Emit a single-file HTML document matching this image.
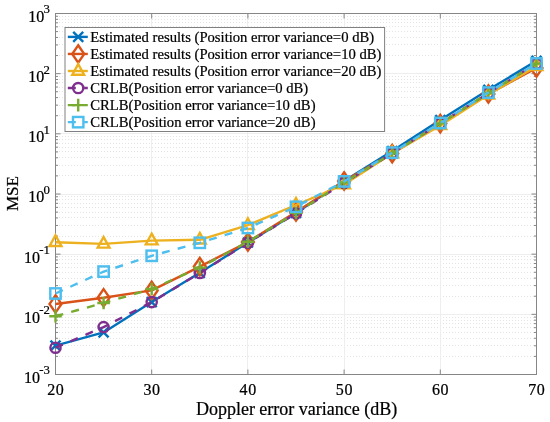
<!DOCTYPE html>
<html><head><meta charset="utf-8"><title>MSE vs Doppler error variance</title>
<style>html,body{margin:0;padding:0;background:#fff}svg{display:block}text{font-family:"Liberation Serif","Times New Roman",serif;fill:#000;stroke:#000;stroke-width:0.22px}</style></head><body>
<svg width="550" height="422" viewBox="0 0 550 422">
<rect width="550" height="422" fill="#fff"/>
<path d="M56.0 356.5H536.5M56.0 345.5H536.5M56.0 338.5H536.5M56.0 332.5H536.5M56.0 327.5H536.5M56.0 323.5H536.5M56.0 320.5H536.5M56.0 317.5H536.5M56.0 296.5H536.5M56.0 285.5H536.5M56.0 278.5H536.5M56.0 272.5H536.5M56.0 267.5H536.5M56.0 263.5H536.5M56.0 259.5H536.5M56.0 256.5H536.5M56.0 236.5H536.5M56.0 225.5H536.5M56.0 217.5H536.5M56.0 212.5H536.5M56.0 207.5H536.5M56.0 203.5H536.5M56.0 199.5H536.5M56.0 196.5H536.5M56.0 175.5H536.5M56.0 165.5H536.5M56.0 157.5H536.5M56.0 151.5H536.5M56.0 147.5H536.5M56.0 143.5H536.5M56.0 139.5H536.5M56.0 136.5H536.5M56.0 115.5H536.5M56.0 105.5H536.5M56.0 97.5H536.5M56.0 91.5H536.5M56.0 87.5H536.5M56.0 82.5H536.5M56.0 79.5H536.5M56.0 76.5H536.5M56.0 55.5H536.5M56.0 44.5H536.5M56.0 37.5H536.5M56.0 31.5H536.5M56.0 26.5H536.5M56.0 22.5H536.5M56.0 19.5H536.5M56.0 16.5H536.5" stroke="#e4e4e4" stroke-width="1" stroke-dasharray="1,2" fill="none"/>
<path d="M151.5 13.5V374.5M247.5 13.5V374.5M344.5 13.5V374.5M440.5 13.5V374.5M55.5 314.5H536.5M55.5 254.5H536.5M55.5 194.5H536.5M55.5 133.5H536.5M55.5 73.5H536.5" stroke="#eeeeee" stroke-width="1" fill="none"/>
<path d="M55.50 374.5v-5M55.50 13.5v5M151.70 374.5v-5M151.70 13.5v5M247.90 374.5v-5M247.90 13.5v5M344.10 374.5v-5M344.10 13.5v5M440.30 374.5v-5M440.30 13.5v5M536.50 374.5v-5M536.50 13.5v5M55.5 374.50h5M536.5 374.50h-5M55.5 314.33h5M536.5 314.33h-5M55.5 254.17h5M536.5 254.17h-5M55.5 194.00h5M536.5 194.00h-5M55.5 133.83h5M536.5 133.83h-5M55.5 73.67h5M536.5 73.67h-5M55.5 13.50h5M536.5 13.50h-5M55.5 356.39h2.5M536.5 356.39h-2.5M55.5 345.79h2.5M536.5 345.79h-2.5M55.5 338.28h2.5M536.5 338.28h-2.5M55.5 332.45h2.5M536.5 332.45h-2.5M55.5 327.68h2.5M536.5 327.68h-2.5M55.5 323.65h2.5M536.5 323.65h-2.5M55.5 320.16h2.5M536.5 320.16h-2.5M55.5 317.09h2.5M536.5 317.09h-2.5M55.5 296.22h2.5M536.5 296.22h-2.5M55.5 285.63h2.5M536.5 285.63h-2.5M55.5 278.11h2.5M536.5 278.11h-2.5M55.5 272.28h2.5M536.5 272.28h-2.5M55.5 267.51h2.5M536.5 267.51h-2.5M55.5 263.49h2.5M536.5 263.49h-2.5M55.5 260.00h2.5M536.5 260.00h-2.5M55.5 256.92h2.5M536.5 256.92h-2.5M55.5 236.05h2.5M536.5 236.05h-2.5M55.5 225.46h2.5M536.5 225.46h-2.5M55.5 217.94h2.5M536.5 217.94h-2.5M55.5 212.11h2.5M536.5 212.11h-2.5M55.5 207.35h2.5M536.5 207.35h-2.5M55.5 203.32h2.5M536.5 203.32h-2.5M55.5 199.83h2.5M536.5 199.83h-2.5M55.5 196.75h2.5M536.5 196.75h-2.5M55.5 175.89h2.5M536.5 175.89h-2.5M55.5 165.29h2.5M536.5 165.29h-2.5M55.5 157.78h2.5M536.5 157.78h-2.5M55.5 151.95h2.5M536.5 151.95h-2.5M55.5 147.18h2.5M536.5 147.18h-2.5M55.5 143.15h2.5M536.5 143.15h-2.5M55.5 139.66h2.5M536.5 139.66h-2.5M55.5 136.59h2.5M536.5 136.59h-2.5M55.5 115.72h2.5M536.5 115.72h-2.5M55.5 105.13h2.5M536.5 105.13h-2.5M55.5 97.61h2.5M536.5 97.61h-2.5M55.5 91.78h2.5M536.5 91.78h-2.5M55.5 87.01h2.5M536.5 87.01h-2.5M55.5 82.99h2.5M536.5 82.99h-2.5M55.5 79.50h2.5M536.5 79.50h-2.5M55.5 76.42h2.5M536.5 76.42h-2.5M55.5 55.55h2.5M536.5 55.55h-2.5M55.5 44.96h2.5M536.5 44.96h-2.5M55.5 37.44h2.5M536.5 37.44h-2.5M55.5 31.61h2.5M536.5 31.61h-2.5M55.5 26.85h2.5M536.5 26.85h-2.5M55.5 22.82h2.5M536.5 22.82h-2.5M55.5 19.33h2.5M536.5 19.33h-2.5M55.5 16.25h2.5M536.5 16.25h-2.5" stroke="#868686" stroke-width="1" fill="none"/>
<rect x="55.5" y="13.5" width="481.0" height="361.0" fill="none" stroke="#868686" stroke-width="1"/>
<clipPath id="c"><rect x="43.5" y="1.5" width="505.0" height="385.0"/></clipPath>
<g clip-path="url(#c)"><polyline points="55.50,345.60 103.60,332.40 151.70,302.10 199.80,272.80 247.90,242.50 296.00,213.00 344.10,181.00 392.20,151.10 440.30,120.10 488.40,89.80 536.50,60.80" fill="none" stroke="#0072BD" stroke-width="2.4" stroke-linejoin="round"/>
<path d="M50.50 340.60L60.50 350.60M50.50 350.60L60.50 340.60" stroke="#0072BD" stroke-width="2.4" fill="none"/>
<path d="M98.60 327.40L108.60 337.40M98.60 337.40L108.60 327.40" stroke="#0072BD" stroke-width="2.4" fill="none"/>
<path d="M146.70 297.10L156.70 307.10M146.70 307.10L156.70 297.10" stroke="#0072BD" stroke-width="2.4" fill="none"/>
<path d="M194.80 267.80L204.80 277.80M194.80 277.80L204.80 267.80" stroke="#0072BD" stroke-width="2.4" fill="none"/>
<path d="M242.90 237.50L252.90 247.50M242.90 247.50L252.90 237.50" stroke="#0072BD" stroke-width="2.4" fill="none"/>
<path d="M291.00 208.00L301.00 218.00M291.00 218.00L301.00 208.00" stroke="#0072BD" stroke-width="2.4" fill="none"/>
<path d="M339.10 176.00L349.10 186.00M339.10 186.00L349.10 176.00" stroke="#0072BD" stroke-width="2.4" fill="none"/>
<path d="M387.20 146.10L397.20 156.10M387.20 156.10L397.20 146.10" stroke="#0072BD" stroke-width="2.4" fill="none"/>
<path d="M435.30 115.10L445.30 125.10M435.30 125.10L445.30 115.10" stroke="#0072BD" stroke-width="2.4" fill="none"/>
<path d="M483.40 84.80L493.40 94.80M483.40 94.80L493.40 84.80" stroke="#0072BD" stroke-width="2.4" fill="none"/>
<path d="M531.50 55.80L541.50 65.80M531.50 65.80L541.50 55.80" stroke="#0072BD" stroke-width="2.4" fill="none"/>
</g>
<g clip-path="url(#c)"><polyline points="55.50,304.00 103.60,297.80 151.70,290.40 199.80,266.60 247.90,242.00 296.00,211.90 344.10,181.00 392.20,153.60 440.30,123.60 488.40,94.00 536.50,68.00" fill="none" stroke="#D95319" stroke-width="2.4" stroke-linejoin="round"/>
<path d="M55.50 295.30L61.50 304.00L55.50 312.70L49.50 304.00Z" stroke="#D95319" stroke-width="2.4" fill="none" stroke-linejoin="miter"/>
<path d="M103.60 289.10L109.60 297.80L103.60 306.50L97.60 297.80Z" stroke="#D95319" stroke-width="2.4" fill="none" stroke-linejoin="miter"/>
<path d="M151.70 281.70L157.70 290.40L151.70 299.10L145.70 290.40Z" stroke="#D95319" stroke-width="2.4" fill="none" stroke-linejoin="miter"/>
<path d="M199.80 257.90L205.80 266.60L199.80 275.30L193.80 266.60Z" stroke="#D95319" stroke-width="2.4" fill="none" stroke-linejoin="miter"/>
<path d="M247.90 233.30L253.90 242.00L247.90 250.70L241.90 242.00Z" stroke="#D95319" stroke-width="2.4" fill="none" stroke-linejoin="miter"/>
<path d="M296.00 203.20L302.00 211.90L296.00 220.60L290.00 211.90Z" stroke="#D95319" stroke-width="2.4" fill="none" stroke-linejoin="miter"/>
<path d="M344.10 172.30L350.10 181.00L344.10 189.70L338.10 181.00Z" stroke="#D95319" stroke-width="2.4" fill="none" stroke-linejoin="miter"/>
<path d="M392.20 144.90L398.20 153.60L392.20 162.30L386.20 153.60Z" stroke="#D95319" stroke-width="2.4" fill="none" stroke-linejoin="miter"/>
<path d="M440.30 114.90L446.30 123.60L440.30 132.30L434.30 123.60Z" stroke="#D95319" stroke-width="2.4" fill="none" stroke-linejoin="miter"/>
<path d="M488.40 85.30L494.40 94.00L488.40 102.70L482.40 94.00Z" stroke="#D95319" stroke-width="2.4" fill="none" stroke-linejoin="miter"/>
<path d="M536.50 59.30L542.50 68.00L536.50 76.70L530.50 68.00Z" stroke="#D95319" stroke-width="2.4" fill="none" stroke-linejoin="miter"/>
</g>
<g clip-path="url(#c)"><polyline points="55.50,242.20 103.60,243.90 151.70,240.60 199.80,239.80 247.90,225.20 296.00,205.00 344.10,184.50 392.20,153.50 440.30,125.40 488.40,94.80 536.50,66.20" fill="none" stroke="#EDB120" stroke-width="2.4" stroke-linejoin="round"/>
<path d="M55.50 235.30L61.40 245.95L49.60 245.95Z" stroke="#EDB120" stroke-width="2.4" fill="none" stroke-linejoin="miter"/>
<path d="M103.60 237.00L109.50 247.65L97.70 247.65Z" stroke="#EDB120" stroke-width="2.4" fill="none" stroke-linejoin="miter"/>
<path d="M151.70 233.70L157.60 244.35L145.80 244.35Z" stroke="#EDB120" stroke-width="2.4" fill="none" stroke-linejoin="miter"/>
<path d="M199.80 232.90L205.70 243.55L193.90 243.55Z" stroke="#EDB120" stroke-width="2.4" fill="none" stroke-linejoin="miter"/>
<path d="M247.90 218.30L253.80 228.95L242.00 228.95Z" stroke="#EDB120" stroke-width="2.4" fill="none" stroke-linejoin="miter"/>
<path d="M296.00 198.10L301.90 208.75L290.10 208.75Z" stroke="#EDB120" stroke-width="2.4" fill="none" stroke-linejoin="miter"/>
<path d="M344.10 177.60L350.00 188.25L338.20 188.25Z" stroke="#EDB120" stroke-width="2.4" fill="none" stroke-linejoin="miter"/>
<path d="M392.20 146.60L398.10 157.25L386.30 157.25Z" stroke="#EDB120" stroke-width="2.4" fill="none" stroke-linejoin="miter"/>
<path d="M440.30 118.50L446.20 129.15L434.40 129.15Z" stroke="#EDB120" stroke-width="2.4" fill="none" stroke-linejoin="miter"/>
<path d="M488.40 87.90L494.30 98.55L482.50 98.55Z" stroke="#EDB120" stroke-width="2.4" fill="none" stroke-linejoin="miter"/>
<path d="M536.50 59.30L542.40 69.95L530.60 69.95Z" stroke="#EDB120" stroke-width="2.4" fill="none" stroke-linejoin="miter"/>
</g>
<g clip-path="url(#c)"><polyline points="55.50,347.70 103.60,327.10 151.70,302.10 199.80,273.00 247.90,242.80 296.00,213.40 344.10,183.00 392.20,153.30 440.30,123.40 488.40,93.00 536.50,63.60" fill="none" stroke="#7E2F8E" stroke-width="2.4" stroke-dasharray="8,8.3" stroke-linejoin="round"/>
<circle cx="55.50" cy="347.70" r="5.1" stroke="#7E2F8E" stroke-width="2.4" fill="none"/>
<circle cx="103.60" cy="327.10" r="5.1" stroke="#7E2F8E" stroke-width="2.4" fill="none"/>
<circle cx="151.70" cy="302.10" r="5.1" stroke="#7E2F8E" stroke-width="2.4" fill="none"/>
<circle cx="199.80" cy="273.00" r="5.1" stroke="#7E2F8E" stroke-width="2.4" fill="none"/>
<circle cx="247.90" cy="242.80" r="5.1" stroke="#7E2F8E" stroke-width="2.4" fill="none"/>
<circle cx="296.00" cy="213.40" r="5.1" stroke="#7E2F8E" stroke-width="2.4" fill="none"/>
<circle cx="344.10" cy="183.00" r="5.1" stroke="#7E2F8E" stroke-width="2.4" fill="none"/>
<circle cx="392.20" cy="153.30" r="5.1" stroke="#7E2F8E" stroke-width="2.4" fill="none"/>
<circle cx="440.30" cy="123.40" r="5.1" stroke="#7E2F8E" stroke-width="2.4" fill="none"/>
<circle cx="488.40" cy="93.00" r="5.1" stroke="#7E2F8E" stroke-width="2.4" fill="none"/>
<circle cx="536.50" cy="63.60" r="5.1" stroke="#7E2F8E" stroke-width="2.4" fill="none"/>
</g>
<g clip-path="url(#c)"><polyline points="55.50,316.20 103.60,303.00 151.70,289.00 199.80,267.60 247.90,241.80 296.00,212.90 344.10,182.50 392.20,153.30 440.30,123.40 488.40,93.00 536.50,63.60" fill="none" stroke="#77AC30" stroke-width="2.4" stroke-dasharray="8,8.3" stroke-linejoin="round"/>
<path d="M49.20 316.20L61.80 316.20M55.50 309.90L55.50 322.50" stroke="#77AC30" stroke-width="2.4" fill="none"/>
<path d="M97.30 303.00L109.90 303.00M103.60 296.70L103.60 309.30" stroke="#77AC30" stroke-width="2.4" fill="none"/>
<path d="M145.40 289.00L158.00 289.00M151.70 282.70L151.70 295.30" stroke="#77AC30" stroke-width="2.4" fill="none"/>
<path d="M193.50 267.60L206.10 267.60M199.80 261.30L199.80 273.90" stroke="#77AC30" stroke-width="2.4" fill="none"/>
<path d="M241.60 241.80L254.20 241.80M247.90 235.50L247.90 248.10" stroke="#77AC30" stroke-width="2.4" fill="none"/>
<path d="M289.70 212.90L302.30 212.90M296.00 206.60L296.00 219.20" stroke="#77AC30" stroke-width="2.4" fill="none"/>
<path d="M337.80 182.50L350.40 182.50M344.10 176.20L344.10 188.80" stroke="#77AC30" stroke-width="2.4" fill="none"/>
<path d="M385.90 153.30L398.50 153.30M392.20 147.00L392.20 159.60" stroke="#77AC30" stroke-width="2.4" fill="none"/>
<path d="M434.00 123.40L446.60 123.40M440.30 117.10L440.30 129.70" stroke="#77AC30" stroke-width="2.4" fill="none"/>
<path d="M482.10 93.00L494.70 93.00M488.40 86.70L488.40 99.30" stroke="#77AC30" stroke-width="2.4" fill="none"/>
<path d="M530.20 63.60L542.80 63.60M536.50 57.30L536.50 69.90" stroke="#77AC30" stroke-width="2.4" fill="none"/>
</g>
<g clip-path="url(#c)"><polyline points="55.50,293.50 103.60,271.60 151.70,255.80 199.80,242.80 247.90,228.00 296.00,206.80 344.10,181.40 392.20,152.70 440.30,123.00 488.40,92.60 536.50,63.50" fill="none" stroke="#4DBEEE" stroke-width="2.4" stroke-dasharray="8,8.3" stroke-linejoin="round"/>
<rect x="50.30" y="288.30" width="10.40" height="10.40" stroke="#4DBEEE" stroke-width="2.4" fill="none"/>
<rect x="98.40" y="266.40" width="10.40" height="10.40" stroke="#4DBEEE" stroke-width="2.4" fill="none"/>
<rect x="146.50" y="250.60" width="10.40" height="10.40" stroke="#4DBEEE" stroke-width="2.4" fill="none"/>
<rect x="194.60" y="237.60" width="10.40" height="10.40" stroke="#4DBEEE" stroke-width="2.4" fill="none"/>
<rect x="242.70" y="222.80" width="10.40" height="10.40" stroke="#4DBEEE" stroke-width="2.4" fill="none"/>
<rect x="290.80" y="201.60" width="10.40" height="10.40" stroke="#4DBEEE" stroke-width="2.4" fill="none"/>
<rect x="338.90" y="176.20" width="10.40" height="10.40" stroke="#4DBEEE" stroke-width="2.4" fill="none"/>
<rect x="387.00" y="147.50" width="10.40" height="10.40" stroke="#4DBEEE" stroke-width="2.4" fill="none"/>
<rect x="435.10" y="117.80" width="10.40" height="10.40" stroke="#4DBEEE" stroke-width="2.4" fill="none"/>
<rect x="483.20" y="87.40" width="10.40" height="10.40" stroke="#4DBEEE" stroke-width="2.4" fill="none"/>
<rect x="531.30" y="58.30" width="10.40" height="10.40" stroke="#4DBEEE" stroke-width="2.4" fill="none"/>
</g>
<text x="55.80" y="394.8" font-size="16" letter-spacing="0.6" text-anchor="middle">20</text>
<text x="152.00" y="394.8" font-size="16" letter-spacing="0.6" text-anchor="middle">30</text>
<text x="248.20" y="394.8" font-size="16" letter-spacing="0.6" text-anchor="middle">40</text>
<text x="344.40" y="394.8" font-size="16" letter-spacing="0.6" text-anchor="middle">50</text>
<text x="440.60" y="394.8" font-size="16" letter-spacing="0.6" text-anchor="middle">60</text>
<text x="536.80" y="394.8" font-size="16" letter-spacing="0.6" text-anchor="middle">70</text>
<text x="50" y="382.90" font-size="16" text-anchor="end">10<tspan font-size="12.8" dy="-8.5" dx="-0.7">-3</tspan></text>
<text x="50" y="322.73" font-size="16" text-anchor="end">10<tspan font-size="12.8" dy="-8.5" dx="-0.7">-2</tspan></text>
<text x="50" y="262.57" font-size="16" text-anchor="end">10<tspan font-size="12.8" dy="-8.5" dx="-0.7">-1</tspan></text>
<text x="50" y="202.40" font-size="16" text-anchor="end">10<tspan font-size="12.8" dy="-8.5" dx="-0.7">0</tspan></text>
<text x="50" y="142.23" font-size="16" text-anchor="end">10<tspan font-size="12.8" dy="-8.5" dx="-0.7">1</tspan></text>
<text x="50" y="82.07" font-size="16" text-anchor="end">10<tspan font-size="12.8" dy="-8.5" dx="-0.7">2</tspan></text>
<text x="50" y="21.90" font-size="16" text-anchor="end">10<tspan font-size="12.8" dy="-8.5" dx="-0.7">3</tspan></text>
<text x="296.6" y="414.5" font-size="18" text-anchor="middle">Doppler error variance (dB)</text>
<text transform="translate(17.6,193.6) rotate(-90)" font-size="17" text-anchor="middle">MSE</text>
<rect x="65.0" y="27.5" width="319.6" height="104.0" fill="#fff" stroke="#808080" stroke-width="1"/>
<path d="M67.8 36.90H87.8" stroke="#0072BD" stroke-width="2.4" fill="none"/>
<path d="M73.20 31.90L83.20 41.90M73.20 41.90L83.20 31.90" stroke="#0072BD" stroke-width="2.4" fill="none"/>
<text x="90.3" y="41.70" font-size="14.67">Estimated results (Position error variance=0 dB)</text>
<path d="M67.8 53.95H87.8" stroke="#D95319" stroke-width="2.4" fill="none"/>
<path d="M78.20 45.25L84.20 53.95L78.20 62.65L72.20 53.95Z" stroke="#D95319" stroke-width="2.4" fill="none" stroke-linejoin="miter"/>
<text x="90.3" y="58.75" font-size="14.67">Estimated results (Position error variance=10 dB)</text>
<path d="M67.8 71.00H87.8" stroke="#EDB120" stroke-width="2.4" fill="none"/>
<path d="M78.20 64.10L84.10 74.75L72.30 74.75Z" stroke="#EDB120" stroke-width="2.4" fill="none" stroke-linejoin="miter"/>
<text x="90.3" y="75.80" font-size="14.67">Estimated results (Position error variance=20 dB)</text>
<path d="M67.8 88.05H87.8" stroke="#7E2F8E" stroke-width="2.4" stroke-dasharray="8,8.3" fill="none"/>
<circle cx="78.20" cy="88.05" r="5.1" stroke="#7E2F8E" stroke-width="2.4" fill="none"/>
<text x="90.3" y="92.85" font-size="14.67">CRLB(Position error variance=0 dB)</text>
<path d="M67.8 105.10H87.8" stroke="#77AC30" stroke-width="2.4" stroke-dasharray="8,8.3" fill="none"/>
<path d="M71.90 105.10L84.50 105.10M78.20 98.80L78.20 111.40" stroke="#77AC30" stroke-width="2.4" fill="none"/>
<text x="90.3" y="109.90" font-size="14.67">CRLB(Position error variance=10 dB)</text>
<path d="M67.8 122.15H87.8" stroke="#4DBEEE" stroke-width="2.4" stroke-dasharray="8,8.3" fill="none"/>
<rect x="73.00" y="116.95" width="10.40" height="10.40" stroke="#4DBEEE" stroke-width="2.4" fill="none"/>
<text x="90.3" y="126.95" font-size="14.67">CRLB(Position error variance=20 dB)</text>
</svg></body></html>
